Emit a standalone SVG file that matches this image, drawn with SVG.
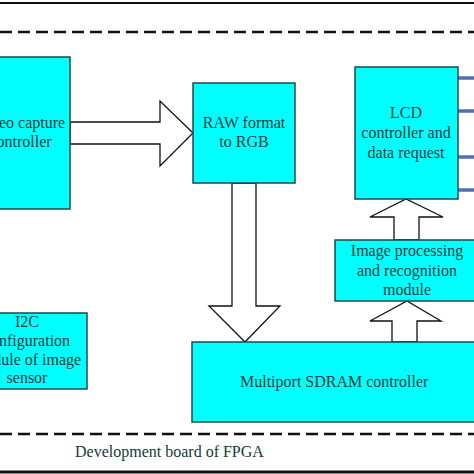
<svg xmlns="http://www.w3.org/2000/svg" width="474" height="474" viewBox="0 0 474 474">
<style>
.box{fill:#00ffff;stroke:#1d4a4a;stroke-width:1.5}
.t{font-family:"Liberation Serif","Times New Roman",serif;font-size:16px;fill:#163a3a;text-anchor:middle}
.arrow{fill:#ffffff;stroke:#111111;stroke-width:1.3;stroke-linejoin:miter}
.dash{stroke:#111111;stroke-width:2.5;stroke-dasharray:12 6;fill:none}
.bus{stroke:#4f6fb2;stroke-width:3.5}
</style>
<rect x="0" y="0" width="474" height="474" fill="#ffffff"/>
<line x1="0" y1="3" x2="474" y2="3" stroke="#111" stroke-width="2"/>
<line x1="0" y1="472" x2="474" y2="472" stroke="#111" stroke-width="3"/>
<line class="dash" x1="0" y1="32" x2="474" y2="32"/>
<line class="dash" x1="0" y1="434" x2="474" y2="434"/>
<text class="t" x="75" y="457" style="text-anchor:start">Development board of FPGA</text>

<g id="connectors">
<polygon class="arrow" points="70,122 160,122 160,101 193,133 160,166 160,144 70,144"/>
<polygon class="arrow" points="232,183 232,306 209,306 245,342 280,306 256,306 256,183"/>
<polygon class="arrow" points="392,342 392,321 370,321 407,301 441,321 417,321 417,342"/>
<polygon class="arrow" points="394,240 394,217 370,217 406,199 443,217 419,217 419,240"/>
<line class="bus" x1="458" y1="78" x2="474" y2="78"/>
<line class="bus" x1="458" y1="111" x2="474" y2="111"/>
<line class="bus" x1="458" y1="157" x2="474" y2="157"/>
<line class="bus" x1="458" y1="190" x2="474" y2="190"/>
</g>

<g id="video-capture">
<rect class="box" x="-20" y="57" width="90" height="152"/>
<text class="t" x="20.5" y="128">Video capture</text>
<text class="t" x="20.5" y="147">controller</text>
</g>

<g id="raw-to-rgb">
<rect class="box" x="193" y="83" width="102" height="100"/>
<text class="t" x="244" y="128">RAW format</text>
<text class="t" x="244" y="147">to RGB</text>
</g>

<g id="lcd">
<rect class="box" x="355" y="67" width="103" height="132"/>
<text class="t" x="406" y="118">LCD</text>
<text class="t" x="406" y="138">controller and</text>
<text class="t" x="406" y="158">data request</text>
</g>

<g id="image-processing">
<rect class="box" x="335" y="240" width="145" height="61"/>
<text class="t" x="407" y="256">Image processing</text>
<text class="t" x="407" y="276">and recognition</text>
<text class="t" x="407" y="295">module</text>
</g>

<g id="sdram">
<rect class="box" x="192" y="342" width="290" height="80"/>
<text class="t" x="240" y="387" style="text-anchor:start">Multiport SDRAM controller</text>
</g>

<g id="i2c">
<rect class="box" x="-30" y="313" width="117" height="76"/>
<text class="t" x="27" y="327">I2C</text>
<text class="t" x="27" y="346">configuration</text>
<text class="t" x="27" y="365">module of image</text>
<text class="t" x="27" y="383">sensor</text>
</g>
</svg>
